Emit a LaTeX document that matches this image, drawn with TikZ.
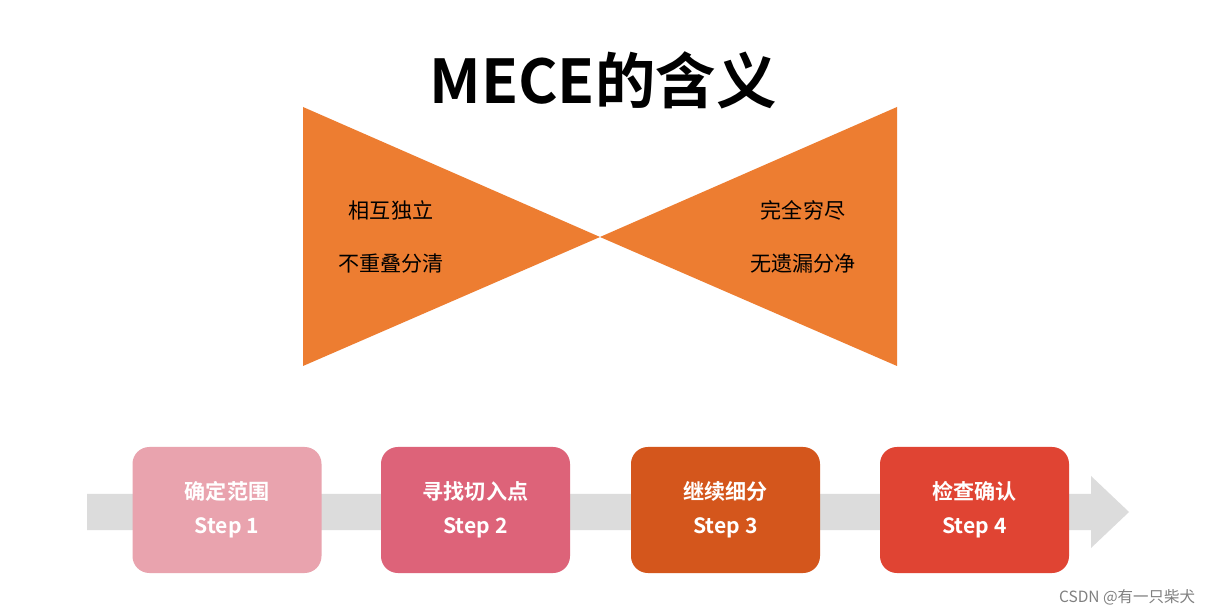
\documentclass[tikz,border=0pt]{standalone}
\usepackage{fontspec}
\setmainfont{Noto Sans CJK SC}
\newfontfamily\cjkb{Noto Sans CJK SC Bold}
\definecolor{org}{HTML}{ED7D31}
\definecolor{band}{HTML}{DCDCDC}
\definecolor{cA}{HTML}{E9A3AE}
\definecolor{cB}{HTML}{DD6379}
\definecolor{cC}{HTML}{D4561C}
\definecolor{cD}{HTML}{E04433}
\tikzset{px/.style={x=0.025cm,y=-0.025cm},
 lbl/.style={font=\fontsize{15}{17}\selectfont},
 stepbox/.style={rounded corners=12pt,minimum width=189*0.025cm,minimum height=126*0.025cm,text=white,align=center,font=\cjkb\fontsize{15}{24}\selectfont,inner sep=0pt}}
\begin{document}
\begin{tikzpicture}[px]
\useasboundingbox[fill=white] (0,0) rectangle (1216,615);
\node[font=\cjkb\fontsize{43}{48}\selectfont] (t) at (603,80) {MECE的含义};
\fill[org] (303,107) -- (303,366) -- (600,237) -- cycle;
\fill[org] (897,107) -- (897,366) -- (600,237) -- cycle;
\node[lbl] (a1) at (391,210) {相互独立};
\node[lbl] (a2) at (391,264) {不重叠分清};
\node[lbl] (b1) at (803,210) {完全穷尽};
\node[lbl] (b2) at (803,264) {无遗漏分净};
\fill[band] (87,494) -- (1091,494) -- (1091,476) -- (1129,512) -- (1091,548) -- (1091,530) -- (87,530) -- cycle;
\node[stepbox,fill=cA] (s1) at (227,510) {确定范围\\Step 1};
\node[stepbox,fill=cB] (s2) at (475.5,510) {寻找切入点\\Step 2};
\node[stepbox,fill=cC] (s3) at (725.5,510) {继续细分\\Step 3};
\node[stepbox,fill=cD] (s4) at (974.5,510) {检查确认\\Step 4};
\node[text=gray,font=\fontsize{11}{12}\selectfont,anchor=east] (w) at (1200,597) {CSDN @有一只柴犬};
\end{tikzpicture}
\end{document}
